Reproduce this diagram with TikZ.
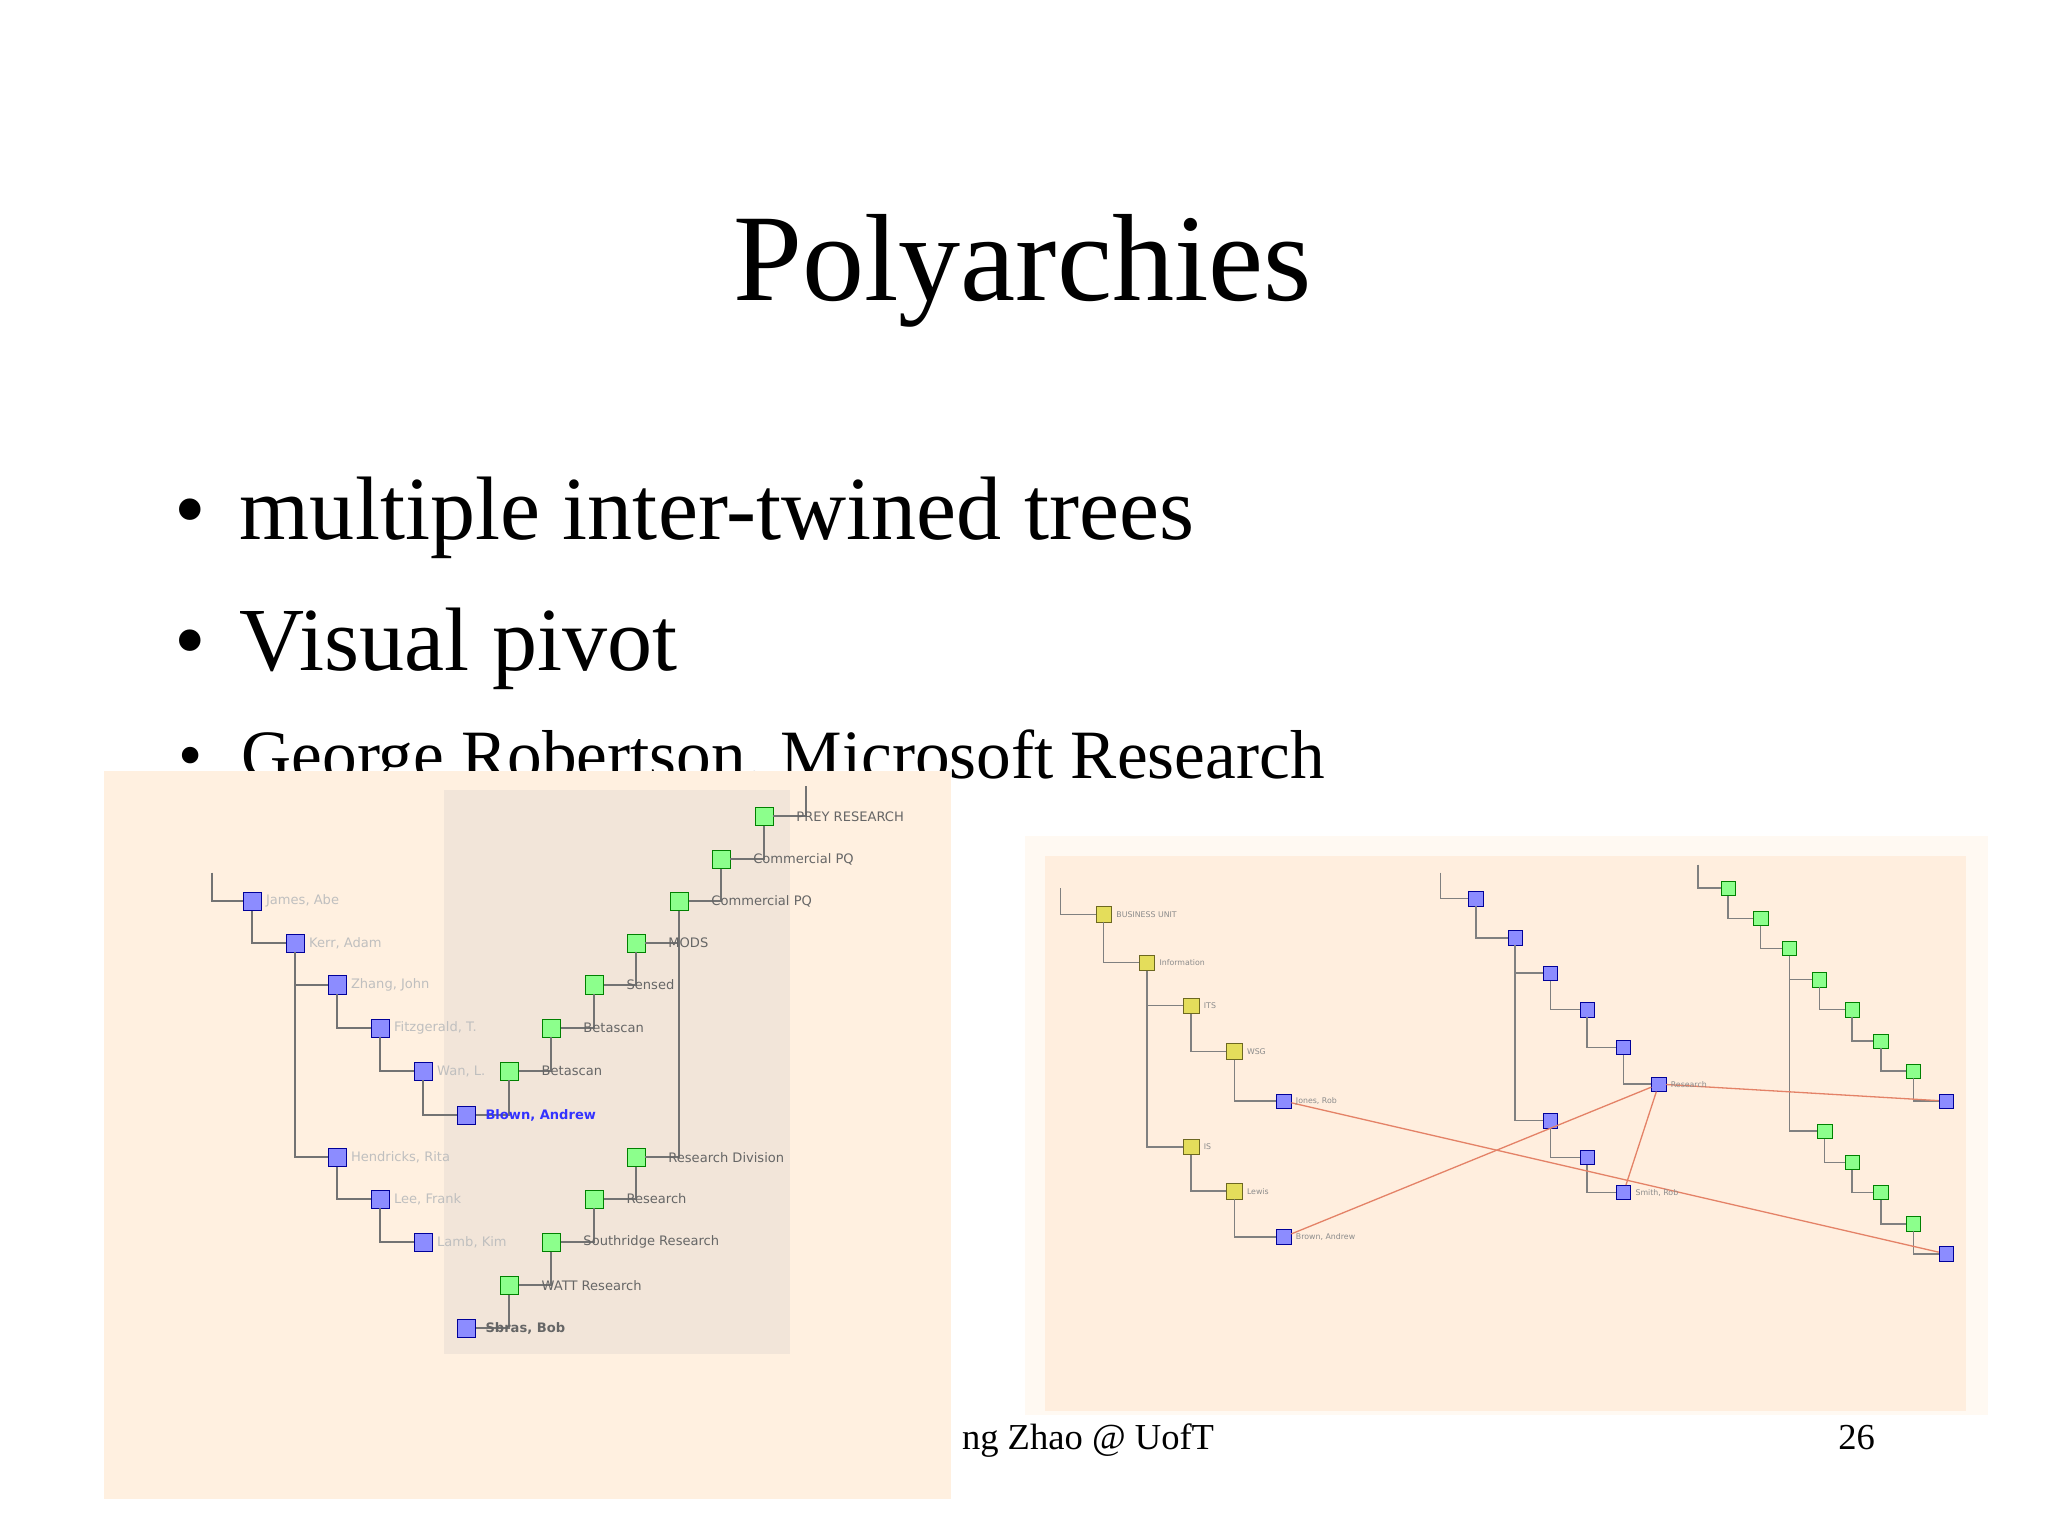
\documentclass[tikz,border=0pt]{standalone}
\usepackage{fontspec}
\setmainfont{Liberation Serif}
\newfontfamily\uifont{DejaVu Sans}
\begin{document}
\begin{tikzpicture}[x=1pt,y=-1pt,
 bl/.style={draw=blue!60!black,fill=blue!45!white,minimum size=14pt,inner sep=0pt},
 gr/.style={draw=green!50!black,fill=green!45!white,minimum size=14pt,inner sep=0pt},
 ye/.style={draw=olive!70!black,fill=yellow!60!olive!60,minimum size=12pt,inner sep=0pt},
 sbl/.style={draw=blue!60!black,fill=blue!45!white,minimum size=11pt,inner sep=0pt},
 sgr/.style={draw=green!50!black,fill=green!45!white,minimum size=11pt,inner sep=0pt},
 lk/.style={draw=black!55,line width=1.6pt},
 slk/.style={draw=black!50,line width=1.1pt},
 xl/.style={draw=red!40!brown!70,line width=1pt},
 lt/.style={anchor=west,font=\uifont\fontsize{10}{10}\selectfont,text=black!25},
 dt/.style={anchor=west,font=\uifont\fontsize{10}{10}\selectfont,text=black!60},
 st/.style={anchor=west,font=\uifont\fontsize{6}{6}\selectfont,text=black!45}]
\useasboundingbox (0,0) rectangle (1568,1176);
\fill[white] (0,0) rectangle (1568,1176);
\node[font=\fontsize{95}{99}\selectfont] (title) at (783,207) {Polyarchies};
\node[anchor=base west,font=\fontsize{69}{72}\selectfont] (b1) at (130,413) {•\hspace{26pt}multiple inter-twined trees};
\node[anchor=base west,font=\fontsize{69}{72}\selectfont] (b2) at (130,513) {•\hspace{26pt}Visual pivot};
\node[anchor=base west,font=\fontsize{53}{56}\selectfont] (b3) at (133,596) {•\hspace{30pt}George Robertson, Microsoft Research};
\node[anchor=base west,font=\fontsize{28}{30}\selectfont] (foot) at (733,1110) {ng Zhao @ UofT};
\node[anchor=base west,font=\fontsize{28}{30}\selectfont] (pg) at (1404,1110) {26};
% left panel
\fill[orange!12!white] (80,590) rectangle (728,1148);
\fill[brown!20!white] (340,605) rectangle (605,1037);
% right panel
\fill[orange!5!white] (785,640) rectangle (1522,1083);
\fill[orange!13!white] (800,655) rectangle (1505,1080);
% left blue tree
\foreach \n/\x/\y in {a1/193/690,a2/226/722,a3/258/754,a4/291/787,a5/324/820,a6/357/854,a7/258/886,a8/291/918,a9/324/951,a10/357/1017}
 \node[bl] (\n) at (\x,\y) {};
\foreach \n/\x/\y in {g1/585/625,g2/552/658,g3/520/690,g4/487/722,g5/455/754,g6/422/787,g7/390/820,g8/487/886,g9/455/918,g10/422/951,g11/390/984}
 \node[gr] (\n) at (\x,\y) {};
\coordinate (r0) at (162,668);
\draw[lk] (r0) |- (a1.west);
\foreach \p/\c in {a1/a2,a2/a3,a3/a4,a4/a5,a5/a6,a2/a7,a7/a8,a8/a9}
 \draw[lk] (\p.south) |- (\c.west);
\coordinate (g0) at (617,602);
\draw[lk] (g0) |- (g1.east);
\foreach \p/\c in {g1/g2,g2/g3,g3/g4,g4/g5,g5/g6,g6/g7,g7/a6,g3/g8,g8/g9,g9/g10,g10/g11,g11/a10}
 \draw[lk] (\p.south) |- (\c.east);
\node[lt] at (a1.east) {James, Abe};
\node[lt] at (a2.east) {Kerr, Adam};
\node[lt] at (a3.east) {Zhang, John};
\node[lt] at (a4.east) {Fitzgerald, T.};
\node[lt] at (a5.east) {Wan, L.};
\node[anchor=west,font=\uifont\bfseries\fontsize{10}{10}\selectfont,text=blue!80] at ([xshift=4pt]a6.east) {Blown, Andrew};
\node[lt] at (a7.east) {Hendricks, Rita};
\node[lt] at (a8.east) {Lee, Frank};
\node[lt] at (a9.east) {Lamb, Kim};
\node[anchor=west,font=\uifont\bfseries\fontsize{10}{10}\selectfont,text=black!60] at ([xshift=4pt]a10.east) {Sbras, Bob};
\foreach \n/\t in {g1/PREY RESEARCH,g2/Commercial PQ,g3/Commercial PQ,g4/MODS,g5/Sensed,g6/Betascan,g7/Betascan,g8/Research Division,g9/Research,g10/Southridge Research,g11/WATT Research}
 \node[dt] at ([xshift=14pt]\n.east) {\t};
% right panel trees
\foreach \n/\x/\y in {y1/845/700,y2/878/737,y3/912/770,y4/945/805,y6/912/878,y7/945/912}
 \node[ye] (\n) at (\x,\y) {};
\foreach \n/\x/\y in {y5/983/843,y8/983/947,m1/1130/688,m2/1160/718,m3/1187/745,m4/1215/773,m5/1243/802,m6/1270/830,m7/1187/858,m8/1215/886,m9/1243/913,q8/1490/843,q13/1490/960}
 \node[sbl] (\n) at (\x,\y) {};
\foreach \n/\x/\y in {q1/1323/680,q2/1348/703,q3/1370/726,q4/1393/750,q5/1418/773,q6/1440/797,q7/1465/820,q9/1397/866,q10/1418/890,q11/1440/913,q12/1465/937}
 \node[sgr] (\n) at (\x,\y) {};
\coordinate (ry) at (812,680);
\draw[slk] (ry) |- (y1.west);
\foreach \p/\c in {y1/y2,y2/y3,y3/y4,y4/y5,y2/y6,y6/y7,y7/y8}
 \draw[slk] (\p.south) |- (\c.west);
\coordinate (rm) at (1103,668);
\draw[slk] (rm) |- (m1.west);
\foreach \p/\c in {m1/m2,m2/m3,m3/m4,m4/m5,m5/m6,m2/m7,m7/m8,m8/m9}
 \draw[slk] (\p.south) |- (\c.west);
\coordinate (rq) at (1300,662);
\draw[slk] (rq) |- (q1.west);
\foreach \p/\c in {q1/q2,q2/q3,q3/q4,q4/q5,q5/q6,q6/q7,q7/q8,q3/q9,q9/q10,q10/q11,q11/q12,q12/q13}
 \draw[slk] (\p.south) |- (\c.west);
\draw[xl] (y5) -- (q13);
\draw[xl] (y8) -- (m6);
\draw[xl] (m6) -- (q8);
\draw[xl] (m9) -- (m6);
\node[st] at (y1.east) {BUSINESS UNIT};
\node[st] at (y2.east) {Information};
\node[st] at (y3.east) {ITS};
\node[st] at (y4.east) {WSG};
\node[st] at (y5.east) {Jones, Rob};
\node[st] at (y6.east) {IS};
\node[st] at (y7.east) {Lewis};
\node[st] at (y8.east) {Brown, Andrew};
\node[st] at (m6.east) {Research};
\node[st] at (m9.east) {Smith, Rob};
\end{tikzpicture}
\end{document}
